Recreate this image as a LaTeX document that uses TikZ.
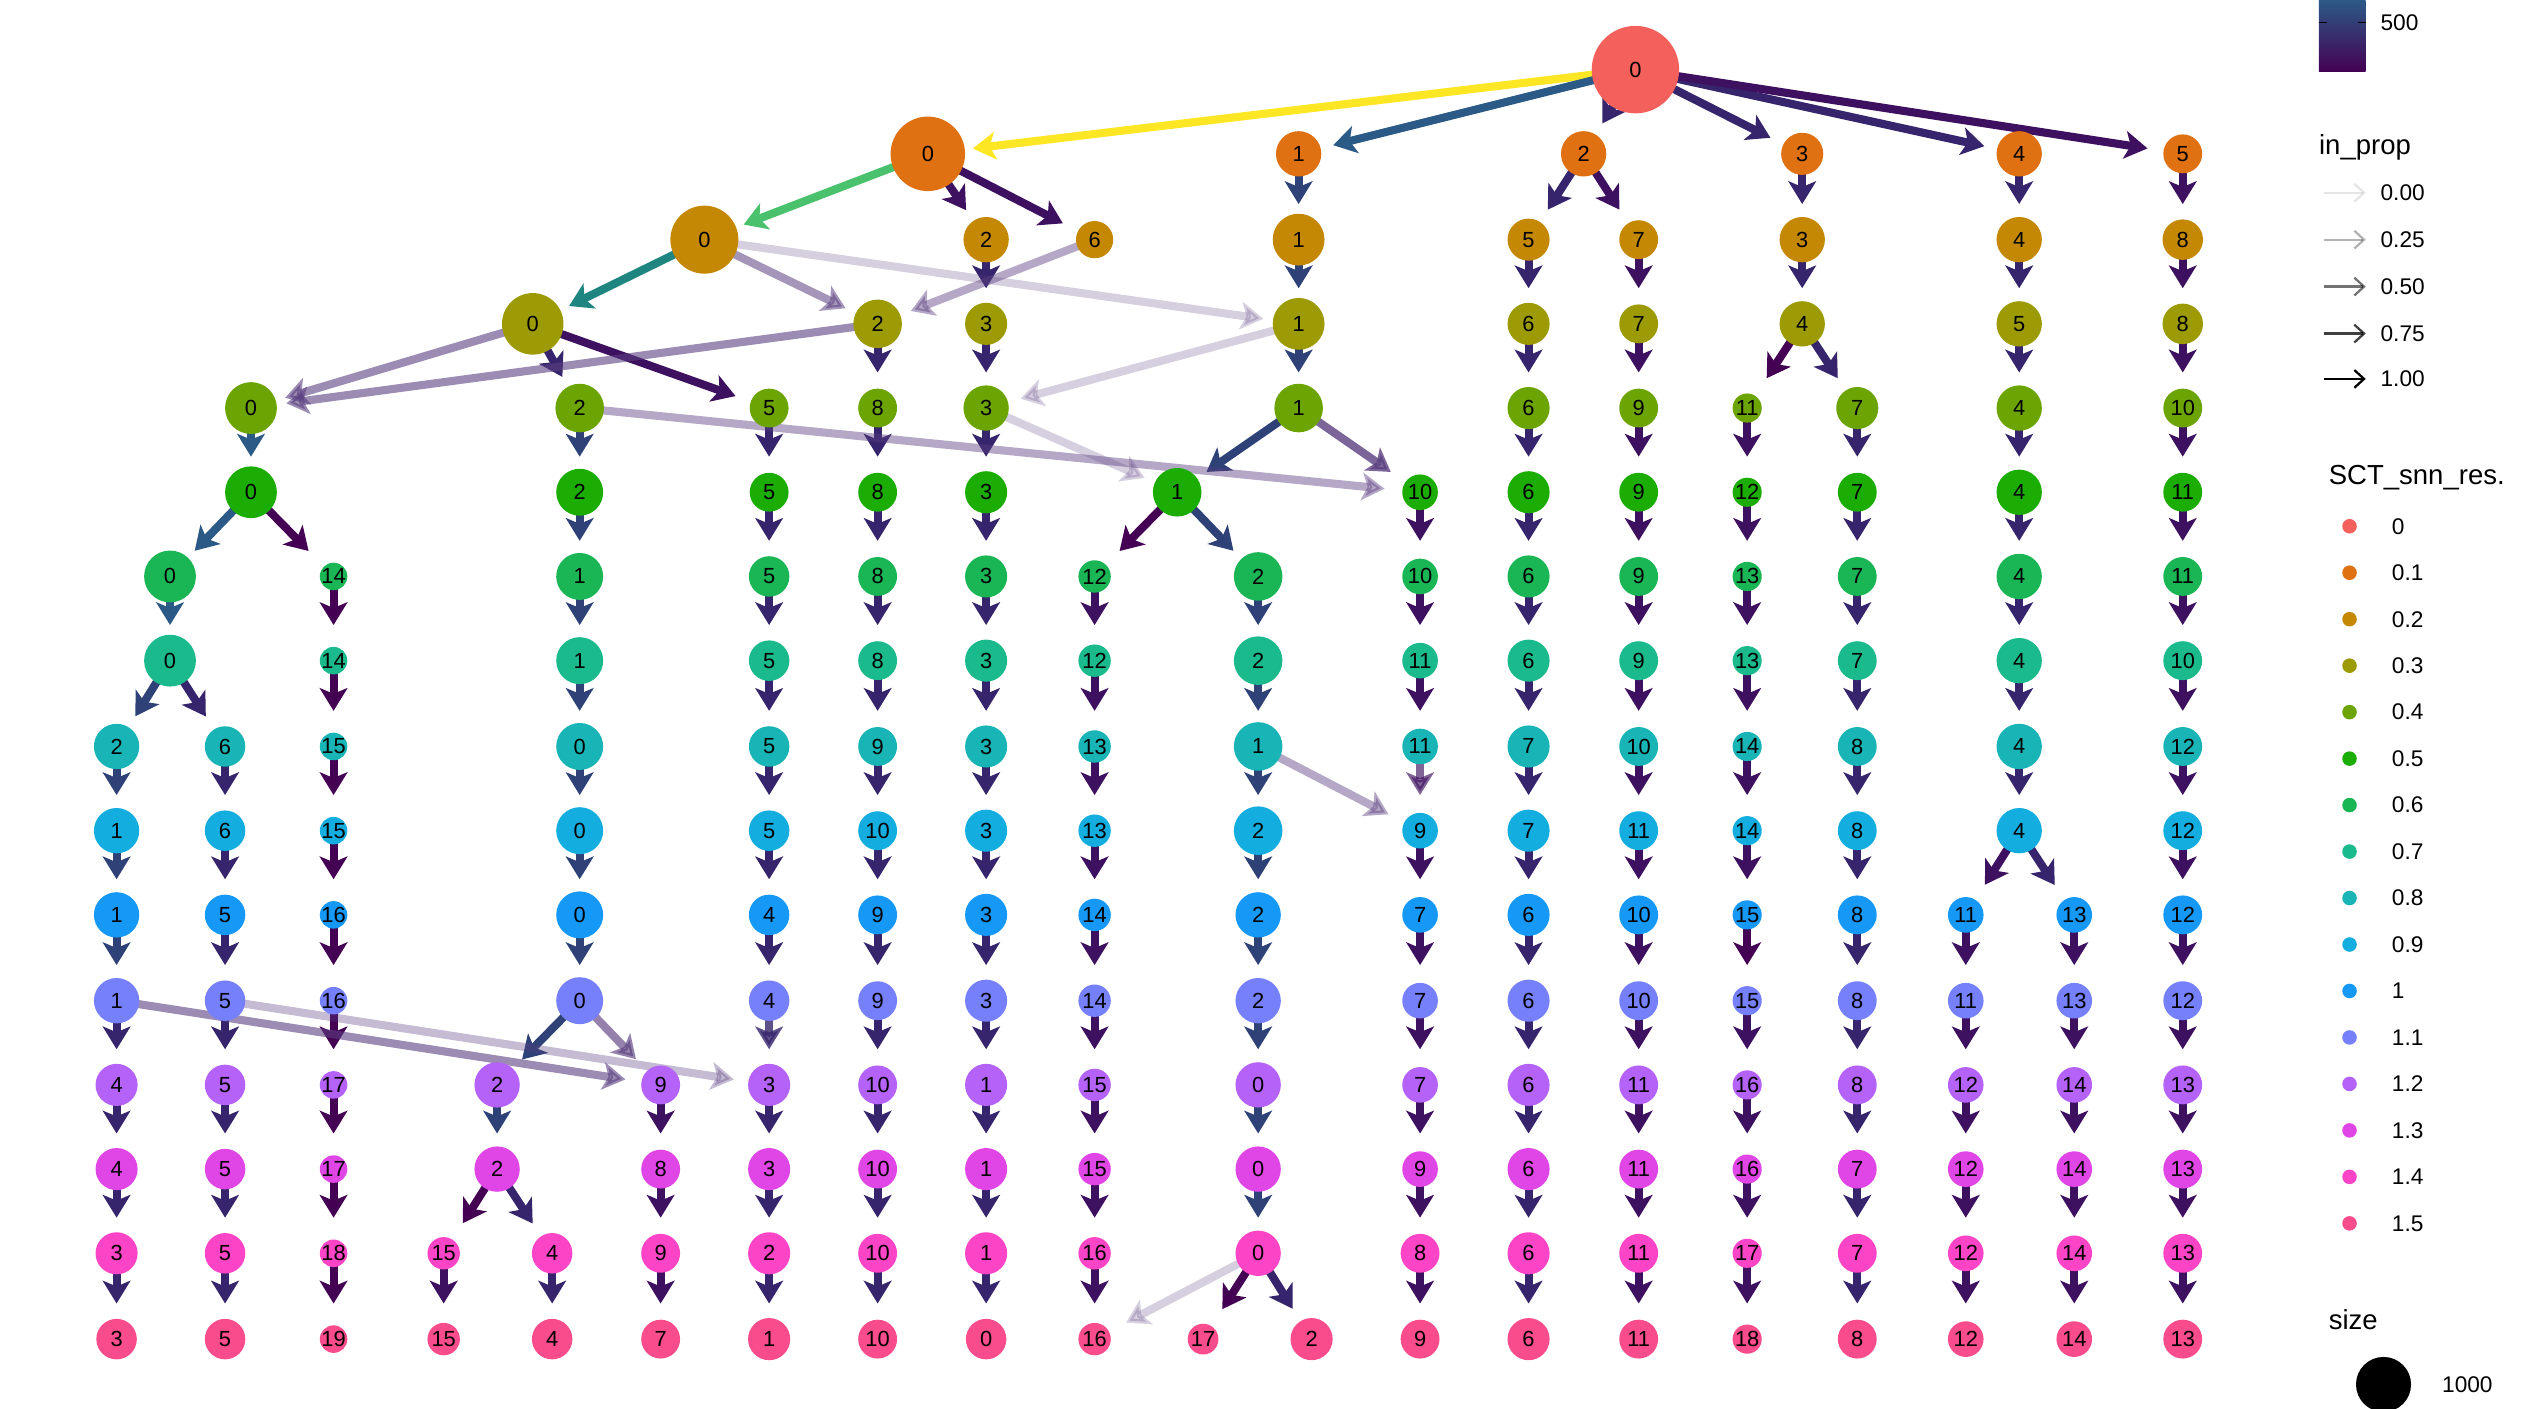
\documentclass[tikz,border=0pt]{standalone}
\usepackage{fontspec}
\setmainfont{Liberation Sans}
\usetikzlibrary{arrows.meta,shapes.geometric}
\pgfdeclarelayer{bg}
\pgfsetlayers{bg,main}
\definecolor{cl0}{HTML}{F4605C}
\definecolor{cl1}{HTML}{E07113}
\definecolor{cl2}{HTML}{C48804}
\definecolor{cl3}{HTML}{9C9A05}
\definecolor{cl4}{HTML}{6CA404}
\definecolor{cl5}{HTML}{1CAD05}
\definecolor{cl6}{HTML}{1AB555}
\definecolor{cl7}{HTML}{1ABA8C}
\definecolor{cl8}{HTML}{18B4B6}
\definecolor{cl9}{HTML}{14ADE0}
\definecolor{cl10}{HTML}{1598F6}
\definecolor{cl11}{HTML}{7680FA}
\definecolor{cl12}{HTML}{B562F8}
\definecolor{cl13}{HTML}{E046E6}
\definecolor{cl14}{HTML}{FC45C6}
\definecolor{cl15}{HTML}{F84C8C}
\definecolor{cY}{HTML}{FDE725}
\definecolor{cG}{HTML}{4AC16D}
\definecolor{cT}{HTML}{1F8580}
\definecolor{cB}{HTML}{2C5A86}
\definecolor{cN}{HTML}{2E4278}
\definecolor{cI}{HTML}{36246C}
\definecolor{cP}{HTML}{3D1160}
\definecolor{cD}{HTML}{440154}
\definecolor{cF}{HTML}{5A3F80}
\tikzset{
  nd/.style={circle,inner sep=0pt,draw=none},
  lab/.style={font=\fontsize{13.5}{13.5}\selectfont,inner sep=0pt},
  edge/.style={line width=5pt,shorten >=22pt,-{Stealth[length=14pt,width=17pt,inset=3.5pt]}},
  legt/.style={font=\fontsize{17}{17}\selectfont,anchor=west,inner sep=0pt},
  legl/.style={font=\fontsize{14}{14}\selectfont,anchor=west,inner sep=0pt},
}
\newcommand\lvl[4]{\foreach \x/\c/\r in {#4}{%
  \node[nd,fill=#3,minimum size=2*\r pt] (L#1c\c) at (\x,#2) {};
  \node[lab] at (L#1c\c) {\c};}}
\newcommand\eds[1]{\begin{pgfonlayer}{bg}\foreach \a/\b/\k in {#1}{\draw[edge,draw=c\k] (L\a.center) -- (L\b.center);}\end{pgfonlayer}}
\newcommand\fed[4][22pt]{\begin{pgfonlayer}{bg}\draw[edge,draw=cF,opacity=#4,shorten >=#1] (L#2.center) -- (L#3.center);\end{pgfonlayer}}
\begin{document}
\begin{tikzpicture}[x=1pt,y=-1pt]
\useasboundingbox (0,0) rectangle (1560,869.6);
% nodes
\lvl{0}{43}{cl0}{1010/0/27}
\lvl{1}{95}{cl1}{573/0/23,802/1/14,978/2/14,1113/3/13,1247/4/14,1348/5/12}
\lvl{2}{148}{cl2}{435/0/21,609/2/14,676/6/11.5,802/1/16,944/5/13,1012/7/12,1113/3/14,1247/4/14,1348/8/12.5}
\lvl{3}{200}{cl3}{329/0/19,542/2/15,609/3/13,802/1/16,944/6/13,1012/7/12,1113/4/14,1247/5/14,1348/8/12.5}
\lvl{4}{252}{cl4}{155/0/16,358/2/15,475/5/12,542/8/12,609/3/14,802/1/15,944/6/13,1012/9/12,1079/11/9,1147/7/13,1247/4/14,1348/10/12}
\lvl{5}{304}{cl5}{155/0/16,358/2/14.5,475/5/12,542/8/12,609/3/13,727/1/15,877/10/11,944/6/13,1012/9/12,1079/12/9,1147/7/12,1247/4/14,1348/11/12}
\lvl{6}{356}{cl6}{105/0/16,206/14/8.5,358/1/14.5,475/5/12.5,542/8/12,609/3/13,676/12/10,777/2/15,877/10/11,944/6/13,1012/9/12,1079/13/9,1147/7/12,1247/4/14,1348/11/12}
\lvl{7}{408}{cl7}{105/0/16,206/14/8.5,358/1/14.5,475/5/12.5,542/8/12,609/3/13,676/12/10,777/2/15,877/11/11,944/6/13,1012/9/12,1079/13/9,1147/7/12,1247/4/14,1348/10/12}
\lvl{8}{461}{cl8}{72/2/14,139/6/12.5,206/15/8.5,358/0/14.5,475/5/12.5,542/9/12,609/3/13,676/13/10,777/1/15,877/11/11,944/7/13,1012/10/12,1079/14/9,1147/8/12,1247/4/14,1348/12/12}
\lvl{9}{513}{cl9}{72/1/14,139/6/12.5,206/15/8.5,358/0/14.5,475/5/12.5,542/10/12,609/3/13,676/13/10,777/2/15,877/9/11,944/7/13,1012/11/12,1079/14/9,1147/8/12,1247/4/14,1348/12/12}
\lvl{10}{565}{cl10}{72/1/14,139/5/12.5,206/16/8.5,358/0/14.5,475/4/12.5,542/9/12,609/3/13,676/14/10,777/2/14,877/7/11,944/6/13,1012/10/12,1079/15/9,1147/8/12,1214/11/11,1281/13/11,1348/12/12}
\lvl{11}{618}{cl11}{72/1/14,139/5/12.5,206/16/8.5,358/0/14.5,475/4/12.5,542/9/12,609/3/13,676/14/10,777/2/14,877/7/11,944/6/13,1012/10/12,1079/15/9,1147/8/12,1214/11/11,1281/13/11,1348/12/12}
\lvl{12}{670}{cl12}{72/4/13,139/5/12.5,206/17/8.5,307/2/14,408/9/12,475/3/13,542/10/12,609/1/13,676/15/10,777/0/14,877/7/11,944/6/13,1012/11/12,1079/16/9,1147/8/12,1214/12/11,1281/14/11,1348/13/12}
\lvl{13}{722}{cl13}{72/4/13,139/5/12.5,206/17/8.5,307/2/14,408/8/12,475/3/13,542/10/12,609/1/13,676/15/10,777/0/14,877/9/11,944/6/13,1012/11/12,1079/16/9,1147/7/12,1214/12/11,1281/14/11,1348/13/12}
\lvl{14}{774}{cl14}{72/3/13,139/5/12.5,206/18/8.5,274/15/10,341/4/12.5,408/9/12,475/2/13,542/10/12,609/1/13,676/16/10,777/0/14,877/8/12,944/6/13,1012/11/12,1079/17/9,1147/7/12,1214/12/11,1281/14/11,1348/13/12}
\lvl{15}{827}{cl15}{72/3/12.5,139/5/12.5,206/19/8.5,274/15/10,341/4/12.5,408/7/12,475/1/13,542/10/12,609/0/12.5,676/16/10,743/17/9.5,810/2/13,877/9/12,944/6/13,1012/11/12,1079/18/9,1147/8/12,1214/12/11,1281/14/11,1348/13/12}
% edges
\begin{pgfonlayer}{bg}
\draw[edge,draw=cY,shorten >=28pt] (L0c0.center) -- (L1c0.center);
\draw[edge,draw=cG,shorten >=26pt] (L1c0.center) -- (L2c0.center);
\draw[edge,draw=cT,shorten >=25pt] (L2c0.center) -- (L3c0.center);
\end{pgfonlayer}
\eds{0c0/1c1/B,0c0/1c2/I,0c0/1c3/I,0c0/1c4/I,0c0/1c5/P,
1c0/2c2/P,1c0/2c6/P,1c1/2c1/N,1c2/2c5/I,1c2/2c7/P,1c3/2c3/I,1c4/2c4/I,1c5/2c8/P,
2c2/3c3/I,2c1/3c1/N,2c5/3c6/I,2c7/3c7/P,2c3/3c4/I,2c4/3c5/I,2c8/3c8/P,
3c0/4c2/I,3c0/4c5/P,3c2/4c8/I,3c3/4c3/I,3c1/4c1/N,3c6/4c6/I,3c7/4c9/P,3c4/4c11/D,3c4/4c7/I,3c5/4c4/I,3c8/4c10/P,
4c0/5c0/B,4c2/5c2/N,4c5/5c5/I,4c8/5c8/I,4c3/5c3/I,4c1/5c1/N,4c6/5c6/I,4c9/5c9/P,4c11/5c12/P,4c7/5c7/I,4c4/5c4/I,4c10/5c11/P,
5c0/6c0/B,5c0/6c14/D,5c2/6c1/N,5c5/6c5/I,5c8/6c8/I,5c3/6c3/I,5c1/6c12/D,5c1/6c2/N,5c10/6c10/P,5c6/6c6/I,5c9/6c9/P,5c12/6c13/P,5c7/6c7/I,5c4/6c4/I,5c11/6c11/P,
6c0/7c0/B,6c14/7c14/D,6c1/7c1/N,6c5/7c5/I,6c8/7c8/I,6c3/7c3/I,6c12/7c12/P,6c2/7c2/N,6c10/7c11/P,6c6/7c6/I,6c9/7c9/P,6c13/7c13/P,6c7/7c7/I,6c4/7c4/I,6c11/7c10/P,
7c0/8c2/N,7c0/8c6/I,7c14/8c15/D,7c1/8c0/N,7c5/8c5/I,7c8/8c9/I,7c3/8c3/I,7c12/8c13/P,7c2/8c1/N,7c11/8c11/P,7c6/8c7/I,7c9/8c10/P,7c13/8c14/P,7c7/8c8/I,7c4/8c4/I,7c10/8c12/P,
8c2/9c1/N,8c6/9c6/I,8c15/9c15/D,8c0/9c0/N,8c5/9c5/I,8c9/9c10/I,8c3/9c3/I,8c13/9c13/P,8c1/9c2/N,8c7/9c7/I,8c10/9c11/P,8c14/9c14/P,8c8/9c8/I,8c4/9c4/I,8c12/9c12/P,
9c1/10c1/N,9c6/10c5/I,9c15/10c16/D,9c0/10c0/N,9c5/10c4/I,9c10/10c9/I,9c3/10c3/I,9c13/10c14/P,9c2/10c2/N,9c9/10c7/P,9c7/10c6/I,9c11/10c10/P,9c14/10c15/P,9c8/10c8/I,9c4/10c11/P,9c4/10c13/I,9c12/10c12/P,
10c1/11c1/N,10c5/11c5/I,10c16/11c16/D,10c0/11c0/N,10c4/11c4/I,10c9/11c9/I,10c3/11c3/I,10c14/11c14/P,10c2/11c2/N,10c7/11c7/P,10c6/11c6/I,10c10/11c10/P,10c15/11c15/D,10c8/11c8/I,10c11/11c11/P,10c13/11c13/P,10c12/11c12/P,
11c1/12c4/I,11c5/12c5/I,11c16/12c17/D,11c0/12c2/N,11c9/12c10/I,11c3/12c1/I,11c14/12c15/P,11c2/12c0/N,11c7/12c7/P,11c6/12c6/I,11c10/12c11/P,11c15/12c16/P,11c8/12c8/I,11c11/12c12/P,11c13/12c14/P,11c12/12c13/P,
12c4/13c4/I,12c5/13c5/I,12c17/13c17/D,12c2/13c2/N,12c9/13c8/P,12c3/13c3/I,12c10/13c10/I,12c1/13c1/I,12c15/13c15/P,12c0/13c0/N,12c7/13c9/P,12c6/13c6/I,12c11/13c11/P,12c16/13c16/P,12c8/13c7/I,12c12/13c12/P,12c14/13c14/P,12c13/13c13/P,
13c4/14c3/I,13c5/14c5/I,13c17/14c18/D,13c2/14c15/D,13c2/14c4/I,13c8/14c9/P,13c3/14c2/I,13c10/14c10/I,13c1/14c1/I,13c15/14c16/P,13c0/14c0/N,13c9/14c8/P,13c6/14c6/I,13c11/14c11/P,13c16/14c17/P,13c7/14c7/I,13c12/14c12/P,13c14/14c14/P,13c13/14c13/P,
14c3/15c3/I,14c5/15c5/I,14c18/15c19/D,14c15/15c15/P,14c4/15c4/I,14c9/15c7/P,14c2/15c1/I,14c10/15c10/I,14c1/15c0/I,14c16/15c16/P,14c0/15c17/D,14c0/15c2/I,14c8/15c9/P,14c6/15c6/I,14c11/15c11/P,14c17/15c18/P,14c7/15c8/I,14c12/15c12/P,14c14/15c14/P,14c13/15c13/P}
\begin{pgfonlayer}{bg}
\draw[edge,draw=cI,opacity=.8] (L11c4.center) -- (L12c3.center);
\draw[edge,draw=cP,opacity=.65] (L8c11.center) -- (L9c9.center);
\end{pgfonlayer}
% faded edges
\fed{2c0}{3c2}{.55}
\fed{2c0}{3c1}{.25}
\fed{2c6}{3c2}{.45}
\fed{3c0}{4c0}{.6}
\fed{3c2}{4c0}{.6}
\fed{3c1}{4c3}{.25}
\fed{4c2}{5c10}{.45}
\fed{4c3}{5c1}{.25}
\fed{4c1}{5c10}{.8}
\fed{8c1}{9c9}{.45}
\fed{11c1}{12c9}{.6}
\fed{11c5}{12c3}{.35}
\fed{11c0}{12c9}{.65}
\fed{14c0}{15c16}{.25}
% legend: colour bar
\shade[top color=cB,bottom color=cD] (1432,0) rectangle (1461,44);
\draw[line width=1pt] (1432,14) -- (1437,14) (1456,14) -- (1461,14);
\node[legl] at (1470,14) {500};
% in_prop
\node[legt] at (1432,91) {in\_prop};
\foreach \y/\o/\t in {119/0.1/0.00,148/0.3/0.25,177/0.55/0.50,206/0.75/0.75,234/1/1.00}{
  \draw[line width=1.4pt,opacity=\o,-{Straight Barb[length=6pt,width=11pt]}] (1435,\y) -- (1461,\y);
  \node[legl] at (1470,\y) {\t};}
% SCT legend
\node[legt] at (1438,295) {SCT\_snn\_res.};
\foreach \i/\t in {0/0,1/0.1,2/0.2,3/0.3,4/0.4,5/0.5,6/0.6,7/0.7,8/0.8,9/0.9,10/1,11/1.1,12/1.2,13/1.3,14/1.4,15/1.5}{
  \fill[cl\i] (1451,325+28.7*\i) circle (4.5);
  \node[legl] at (1477,325+28.7*\i) {\t};}
% size legend
\node[legt] at (1438,815) {size};
\fill (1472,855) circle (17);
\node[legl] at (1508,855) {1000};
\end{tikzpicture}
\end{document}
